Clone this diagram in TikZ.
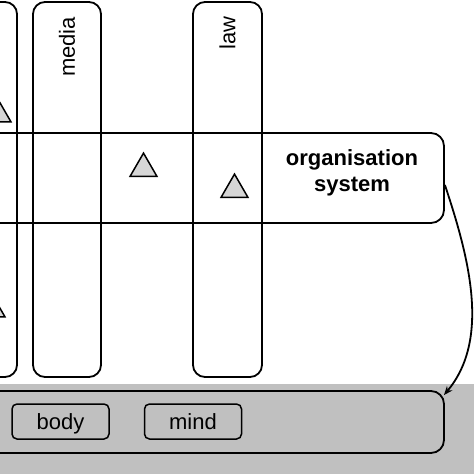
\documentclass[tikz,border=0pt]{standalone}
\usepackage{fontspec}
\setmainfont{Liberation Sans}
\usetikzlibrary{shapes.geometric,arrows.meta}
\definecolor{bandgray}{HTML}{C0C0C0}
\definecolor{trigray}{HTML}{D6D6D6}
\tikzset{
  col/.style={draw, line width=1.8pt, rounded corners=12pt, inner sep=0pt},
  rowbox/.style={draw, line width=1.8pt, rounded corners=13pt, inner sep=0pt},
  smallbox/.style={draw, line width=1.5pt, rounded corners=5pt, inner sep=0pt,
    minimum width=97pt, minimum height=35pt, text height=18pt, text depth=2pt,
    font=\fontsize{22}{26}\selectfont},
  tri/.style={draw, fill=trigray, line width=1.5pt, regular polygon, regular polygon sides=3,
    minimum size=31pt, inner sep=0pt},
  lbl/.style={font=\fontsize{22}{26}\selectfont, inner sep=0pt},
  conn/.style={line width=1.8pt, -{Stealth[length=9pt,width=7pt]}}
}
\begin{document}
\begin{tikzpicture}[x=1pt,y=-1pt]
\path[use as bounding box, clip] (0,0) rectangle (474,474);
\fill[white] (0,0) rectangle (474,474);
% gray band
\fill[bandgray] (0,384) rectangle (474,474);
\node[rowbox, minimum width=504pt, minimum height=62pt] (inner) at (192,422) {};
\node[smallbox] (body) at (60.5,421.5) {body};
\node[smallbox] (mind) at (193,421.5) {mind};
% columns
\node[col, minimum width=68pt, minimum height=375pt] (leftcol) at (-17,189.5) {};
\node[col, minimum width=68pt, minimum height=375pt] (media) at (67,189.5) {};
\node[col, minimum width=69pt, minimum height=375pt] (law) at (227.5,189.5) {};
\node[lbl, rotate=90] (medialbl) at (67,47) {media};
\node[lbl, rotate=90] (lawlbl) at (227.5,33) {law};
% organisation row
\node[rowbox, minimum width=504pt, minimum height=90pt] (org) at (192,178) {};
\node[lbl, font=\fontsize{22}{26}\selectfont\bfseries, align=center] (orglbl) at (352,173) {organisation\\system};
% triangles
\node[tri] (t0) at (-2.5,114) {};
\node[tri] (t1) at (143.5,168.6) {};
\node[tri] (t2) at (234.5,189.6) {};
\node[tri] (t3) at (-8.5,309) {};
% connector
\draw[conn] ([yshift=-7pt]org.east) .. controls (470,260) and (490,340) .. ([xshift=-1pt,yshift=-5pt]inner.north east);
\end{tikzpicture}
\end{document}
